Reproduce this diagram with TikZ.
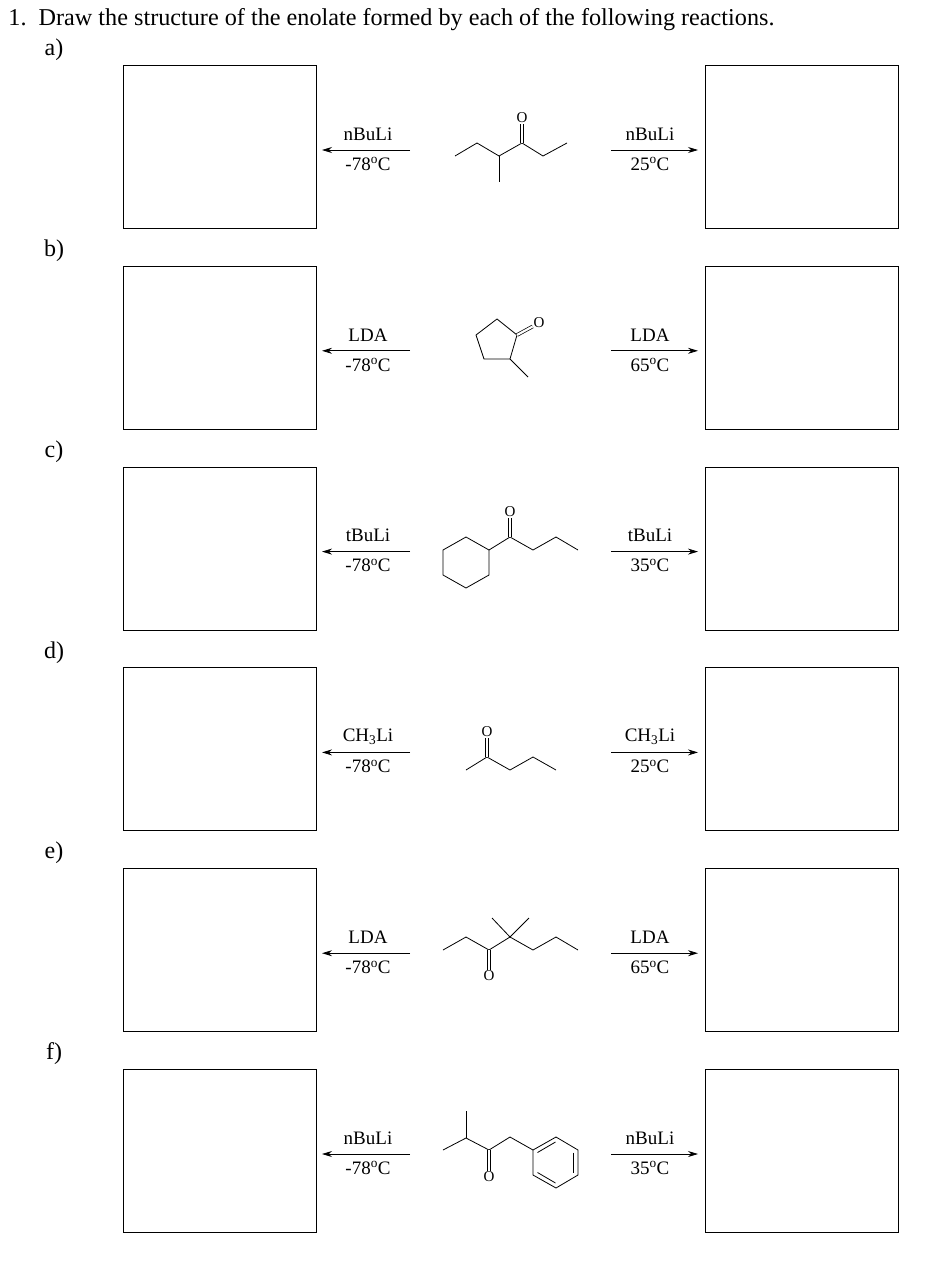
\documentclass[tikz,border=0pt]{standalone}
\usepackage{fontspec}
\setmainfont{Liberation Serif}
\usetikzlibrary{arrows.meta}
\begin{document}
\begin{tikzpicture}[x=1pt,y=-1pt,line width=0.9pt,
  ansbox/.style={draw,line width=0.9pt},
  rxn/.style={-{Stealth[length=10pt,width=6pt]},line width=0.8pt},
  reag/.style={font=\fontsize{19}{21}\selectfont,inner sep=0pt},
  atom/.style={font=\fontsize{15}{17}\selectfont,inner sep=0.5pt},
  bond/.style={line width=0.8pt}]
\useasboundingbox (0,0) rectangle (941,1266);
\node[anchor=west,font=\fontsize{24.2}{26}\selectfont,inner sep=0pt] (title) at (8,20) {1.\ \ Draw the structure of the enolate formed by each of the following reactions.};
\foreach \lab/\up/\lo/\ro [count=\i from 0] in {a/nBuLi/-78\textsuperscript{o}C/25\textsuperscript{o}C,
  b/LDA/-78\textsuperscript{o}C/65\textsuperscript{o}C,
  c/tBuLi/-78\textsuperscript{o}C/35\textsuperscript{o}C,
  d/CH\textsubscript{3}Li/-78\textsuperscript{o}C/25\textsuperscript{o}C,
  e/LDA/-78\textsuperscript{o}C/65\textsuperscript{o}C,
  f/nBuLi/-78\textsuperscript{o}C/35\textsuperscript{o}C}{
  \pgfmathsetmacro{\t}{65+200.8*\i}
  \node[font=\fontsize{24}{26}\selectfont,inner sep=0pt] (lab\lab) at (54,\t-15) {\lab)};
  \node[ansbox,minimum width=193pt,minimum height=163pt,anchor=north west] (L\lab) at (123,\t) {};
  \node[ansbox,minimum width=193pt,minimum height=163pt,anchor=north west] (R\lab) at (705,\t) {};
  \coordinate (ls\lab) at (410,\t+85);
  \coordinate (le\lab) at (322,\t+85);
  \coordinate (rs\lab) at (611,\t+85);
  \coordinate (re\lab) at (698,\t+85);
  \draw[rxn] (ls\lab) -- (le\lab);
  \draw[rxn] (rs\lab) -- (re\lab);
  \node[reag] (lu\lab) at (368,\t+69) {\up};
  \node[reag] (ll\lab) at (368,\t+99) {\lo};
  \node[reag] (ru\lab) at (650,\t+69) {\up};
  \node[reag] (rl\lab) at (650,\t+99) {\ro};
}
\tikzset{dbl/.style={double distance=2.2pt,line width=0.7pt}}
% a
\draw[bond] (455,156)--(477,143)--(499,156)--(522,143)--(543,156)--(567,143);
\draw[bond] (499,156)--(499,182);
\node[atom] (Oa) at (522,118) {O};
\draw[dbl] (522,143)--(Oa);
% b
\draw[bond] (497,319)--(476,335)--(484,359)--(510,359)--(517,335)--cycle;
\draw[bond] (510,359)--(528,377);
\node[atom] (Ob) at (539,323) {O};
\draw[dbl] (517,335)--(Ob);
% c
\draw[bond] (443,550)--(466,537)--(489,550)--(489,575)--(466,588)--(443,575)--cycle;
\draw[bond] (489,550)--(510,537)--(533,550)--(556,537)--(578,550);
\node[atom] (Oc) at (510,512) {O};
\draw[dbl] (510,537)--(Oc);
% d
\draw[bond] (466,770)--(487,757)--(510,770)--(533,757)--(556,770);
\node[atom] (Od) at (487,732) {O};
\draw[dbl] (487,757)--(Od);
% e
\draw[bond] (443,950)--(466,937)--(489,950)--(510,937)--(533,950)--(556,937)--(578,950);
\draw[bond] (492,918)--(510,937)--(529,918);
\node[atom] (Oe) at (489,976) {O};
\draw[dbl] (489,950)--(Oe);
% f
\draw[bond] (466,1111)--(466,1138);
\draw[bond] (443,1150)--(466,1138)--(489,1150)--(510,1137)--(533,1150);
\node[atom] (Of) at (489,1177) {O};
\draw[dbl] (489,1150)--(Of);
\draw[bond] (533,1150)--(556,1137)--(578,1150)--(578,1175)--(556,1188)--(533,1175)--cycle;
\draw[bond] (537.5,1152.5)--(555.5,1142);
\draw[bond] (573.5,1152.5)--(573.5,1172.5);
\draw[bond] (537.5,1172.5)--(555.5,1183);
\end{tikzpicture}
\end{document}
